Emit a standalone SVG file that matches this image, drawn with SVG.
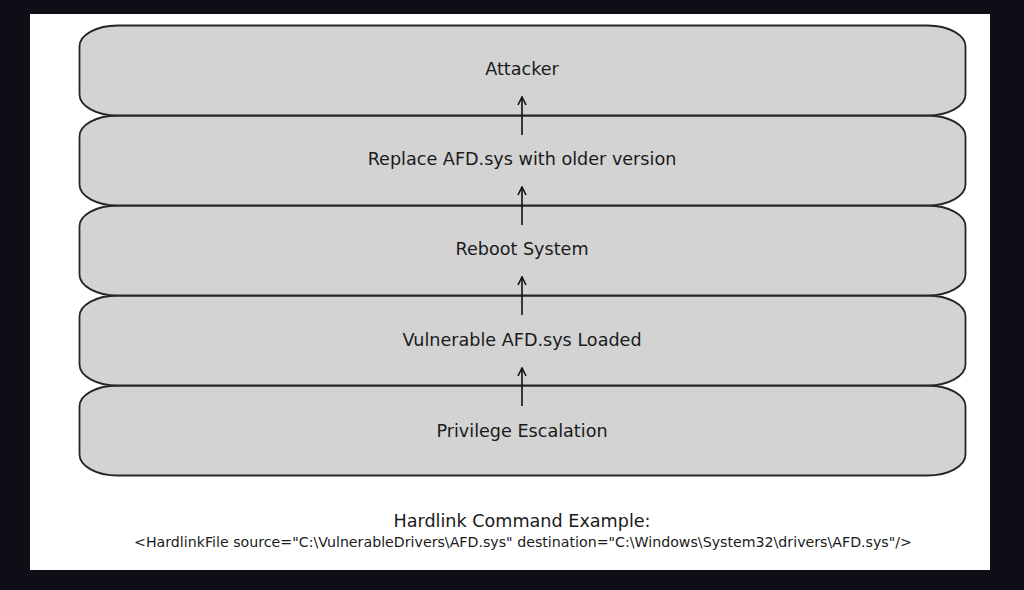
<svg xmlns="http://www.w3.org/2000/svg" width="1024" height="590" viewBox="0 0 1024 590">
<defs>
<style>
.box{fill:#d3d3d3;stroke:#262626;stroke-width:1.8}
.lbl{font-family:"DejaVu Sans",sans-serif;font-size:17.6px;fill:#1a1a1a;text-anchor:middle}
.arr{stroke:#111;stroke-width:1.6;fill:none}
</style>
<marker id="ah" viewBox="0 0 10 10" refX="9" refY="5" markerWidth="10" markerHeight="10" markerUnits="userSpaceOnUse" orient="auto">
<path d="M1,1 L9,5 L1,9" fill="none" stroke="#111" stroke-width="1.6"/>
</marker>
</defs>
<rect x="0" y="0" width="1024" height="590" fill="#0f0e17"/>
<rect x="30" y="14" width="960" height="556" fill="#ffffff"/>
<g id="node-privilege">
<rect class="box" x="79.5" y="385.5" width="886" height="90" rx="38" ry="21"/>
<text class="lbl" x="522" y="436.5">Privilege Escalation</text>
</g>
<g id="node-vulnerable">
<rect class="box" x="79.5" y="295.5" width="886" height="90" rx="38" ry="21"/>
<text class="lbl" x="522" y="345.5">Vulnerable AFD.sys Loaded</text>
</g>
<g id="node-reboot">
<rect class="box" x="79.5" y="205.5" width="886" height="90" rx="38" ry="21"/>
<text class="lbl" x="522" y="254.5">Reboot System</text>
</g>
<g id="node-replace">
<rect class="box" x="79.5" y="115.5" width="886" height="90" rx="38" ry="21"/>
<text class="lbl" x="522" y="164.5">Replace AFD.sys with older version</text>
</g>
<g id="node-attacker">
<rect class="box" x="79.5" y="25.5" width="886" height="90" rx="38" ry="21"/>
<text class="lbl" x="522" y="74.5">Attacker</text>
</g>
<g id="connectors">
<line class="arr" x1="522" y1="135" x2="522" y2="97" marker-end="url(#ah)"/>
<line class="arr" x1="522" y1="225" x2="522" y2="187" marker-end="url(#ah)"/>
<line class="arr" x1="522" y1="315" x2="522" y2="277" marker-end="url(#ah)"/>
<line class="arr" x1="522" y1="406" x2="522" y2="368" marker-end="url(#ah)"/>
</g>
<g id="caption">
<text x="522" y="527" style="font-family:'DejaVu Sans',sans-serif;font-size:17.6px;fill:#1a1a1a;text-anchor:middle">Hardlink Command Example:</text>
<text x="523" y="547" style="font-family:'DejaVu Sans',sans-serif;font-size:14.2px;fill:#1a1a1a;text-anchor:middle">&lt;HardlinkFile source="C:\VulnerableDrivers\AFD.sys" destination="C:\Windows\System32\drivers\AFD.sys"/&gt;</text>
</g>
</svg>
